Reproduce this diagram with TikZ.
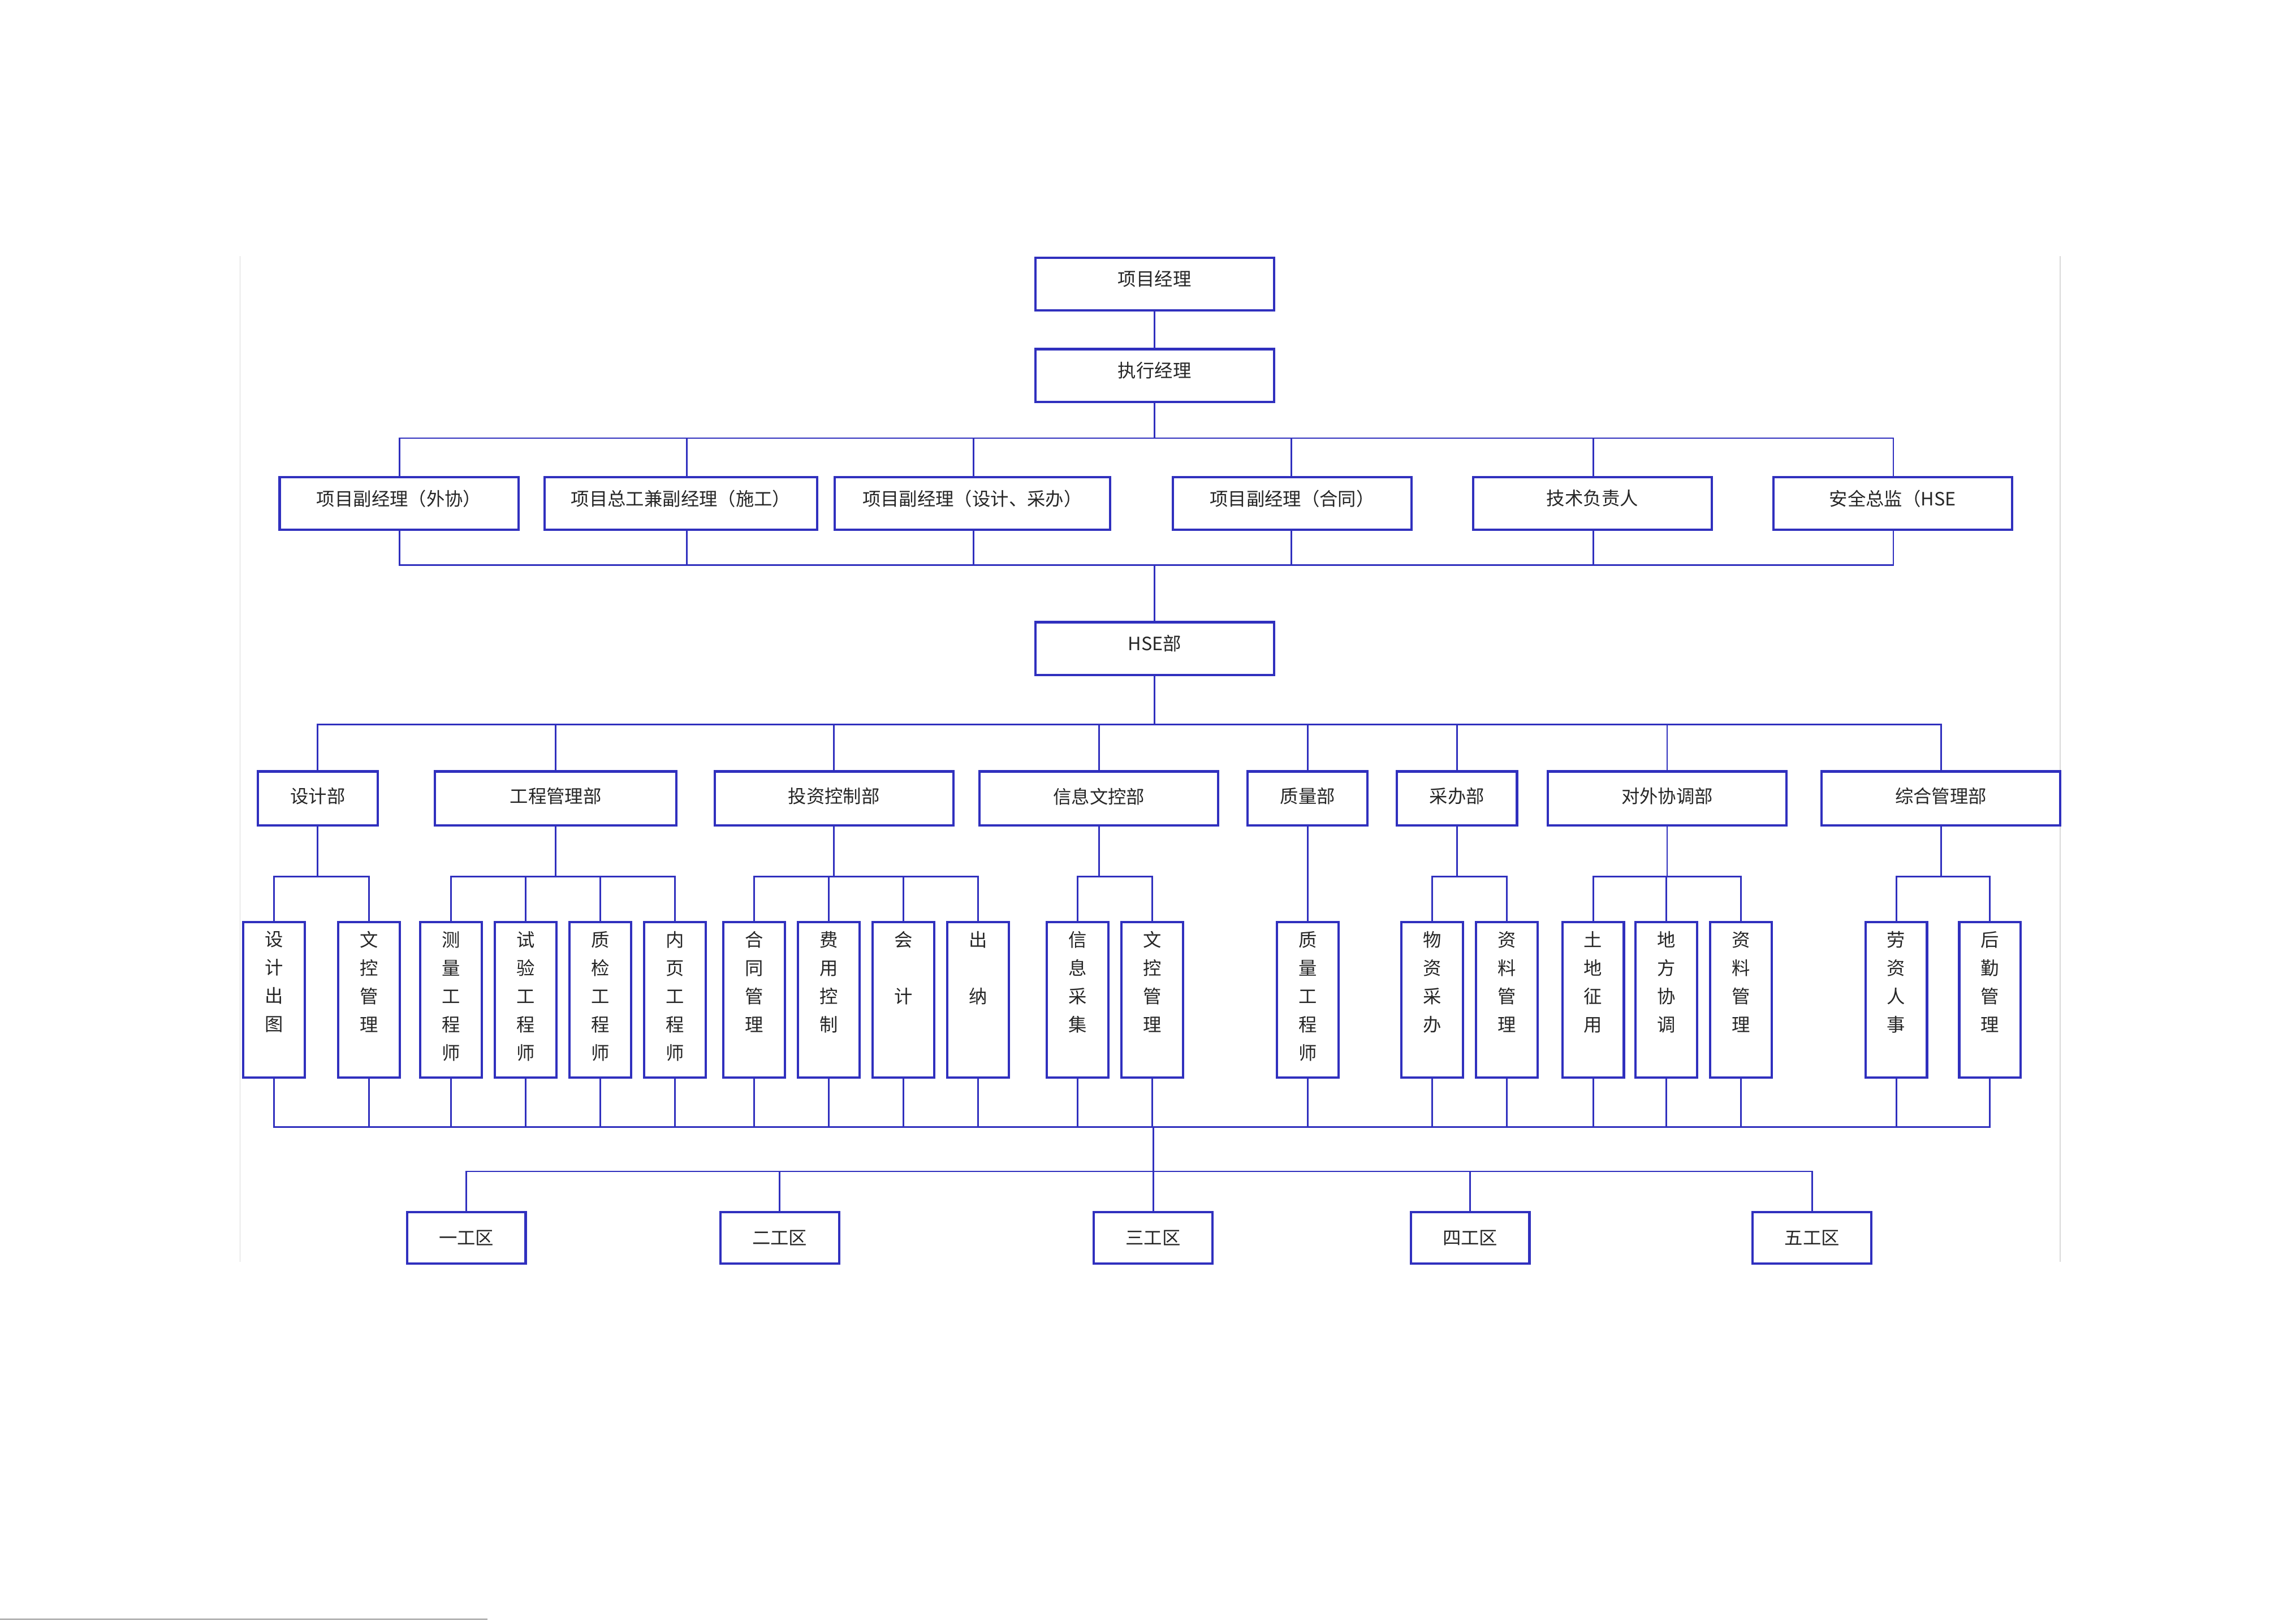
\documentclass[tikz,border=0pt]{standalone}
\usepackage{fontspec}
\newfontfamily\cjk{Noto Sans CJK SC}
\definecolor{ln}{RGB}{48,48,190}
\begin{document}
\begin{tikzpicture}[x=1pt,y=-1pt,
  every node/.style={font=\cjk\fontsize{12.5}{15}\selectfont, text=black!85},
  box/.style={draw=ln, line width=1.6pt, minimum width=163pt, minimum height=36pt, inner sep=0pt, text depth=8pt},
  dbox/.style={draw=ln, line width=1.6pt, minimum height=37pt, inner sep=0pt, text depth=4pt},
  leaf/.style={draw=ln, line width=1.6pt, minimum width=42pt, minimum height=106pt, inner sep=0pt},
  vt/.style={anchor=north, align=center, inner sep=0pt, font=\cjk\fontsize{12.5}{19.3}\selectfont},
  wz/.style={draw=ln, line width=1.6pt, minimum width=81pt, minimum height=35pt, inner sep=0pt},
  con/.style={draw=ln, line width=1.1pt}]
\useasboundingbox (0,0) rectangle (1568,1108);
\fill[white] (0,0) rectangle (1568,1108);
\draw[black!15, line width=0.6pt] (164,175) -- (164,862) (1407,175) -- (1407,862);
\draw[black!40, line width=0.8pt] (0,1106) -- (333,1106);
% top
\node[box] (pm) at (788.5,194) {项目经理};
\node[box] (em) at (788.5,256.5) {执行经理};
\node[box] (d1) at (272.5,344) {项目副经理（外协）};
\node[box, minimum width=186pt] (d2) at (465,344) {项目总工兼副经理（施工）};
\node[box, minimum width=188pt] (d3) at (664,344) {项目副经理（设计、采办）};
\node[box] (d4) at (882.5,344) {项目副经理（合同）};
\node[box] (d5) at (1087.5,344) {技术负责人};
\node[box] (d6) at (1292.5,344) {安全总监（HSE};
\node[box] (hse) at (788.5,443) {HSE部};
\draw[con] (pm) -- (em);
\foreach \c/\x in {d1/273,d2/469,d3/665,d4/882,d5/1088,d6/1293}{
  \draw[con] (em.south) -- ++(0,24) -| (\x,326);
  \draw[con] (\x,362) -- ++(0,24) -| (hse.north);
}
% departments
\node[dbox, minimum width=82pt] (p1) at (217,545.5) {设计部};
\node[dbox, minimum width=165pt] (p2) at (379.5,545.5) {工程管理部};
\node[dbox, minimum width=163pt] (p3) at (569.5,545.5) {投资控制部};
\node[dbox, minimum width=163pt] (p4) at (750.5,545.5) {信息文控部};
\node[dbox, minimum width=82pt] (p5) at (893,545.5) {质量部};
\node[dbox, minimum width=82pt] (p6) at (995,545.5) {采办部};
\node[dbox, minimum width=163pt] (p7) at (1138.5,545.5) {对外协调部};
\node[dbox, minimum width=163pt] (p8) at (1325.5,545.5) {综合管理部};
\foreach \p in {p1,p2,p3,p4,p5,p6,p7,p8}{\draw[con] (hse.south) -- ++(0,33) -| (\p.north);}
% leaves
\foreach \n/\x/\t/\p in {
 l1/187/设\\计\\出\\图/p1, l2/252/文\\控\\管\\理/p1,
 l3/308/测\\量\\工\\程\\师/p2, l4/359/试\\验\\工\\程\\师/p2, l5/410/质\\检\\工\\程\\师/p2, l6/461/内\\页\\工\\程\\师/p2,
 l7/515/合\\同\\管\\理/p3, l8/566/费\\用\\控\\制/p3, l9/617/会\\ \\计/p3, l10/668/出\\ \\纳/p3,
 l11/736/信\\息\\采\\集/p4, l12/787/文\\控\\管\\理/p4,
 l13/893/质\\量\\工\\程\\师/p5,
 l14/978/物\\资\\采\\办/p6, l15/1029/资\\料\\管\\理/p6,
 l16/1088/土\\地\\征\\用/p7, l17/1138/地\\方\\协\\调/p7, l18/1189/资\\料\\管\\理/p7,
 l19/1295/劳\\资\\人\\事/p8, l20/1359/后\\勤\\管\\理/p8}{
  \node[leaf] (\n) at (\x,683) {};
  \node[vt] (\n t) at (\x,636) {\t};
  \draw[con] (\p.south) -- ++(0,34) -| (\n.north);
}
% work zones
\node[wz] (w1) at (318.5,845.5) {一工区};
\node[wz] (w2) at (532.5,845.5) {二工区};
\node[wz] (w3) at (787.5,845.5) {三工区};
\node[wz] (w4) at (1004,845.5) {四工区};
\node[wz] (w5) at (1237.5,845.5) {五工区};
\foreach \n in {l1,l2,l3,l4,l5,l6,l7,l8,l9,l10,l11,l12,l13,l14,l15,l16,l17,l18,l19,l20}{
  \draw[con] (\n.south) -- ++(0,33) -| (w3.north);
}
\foreach \w in {w1,w2,w4,w5}{\draw[con] (\w.north) -- ++(0,-27) -| (w3.north);}
\end{tikzpicture}
\end{document}
